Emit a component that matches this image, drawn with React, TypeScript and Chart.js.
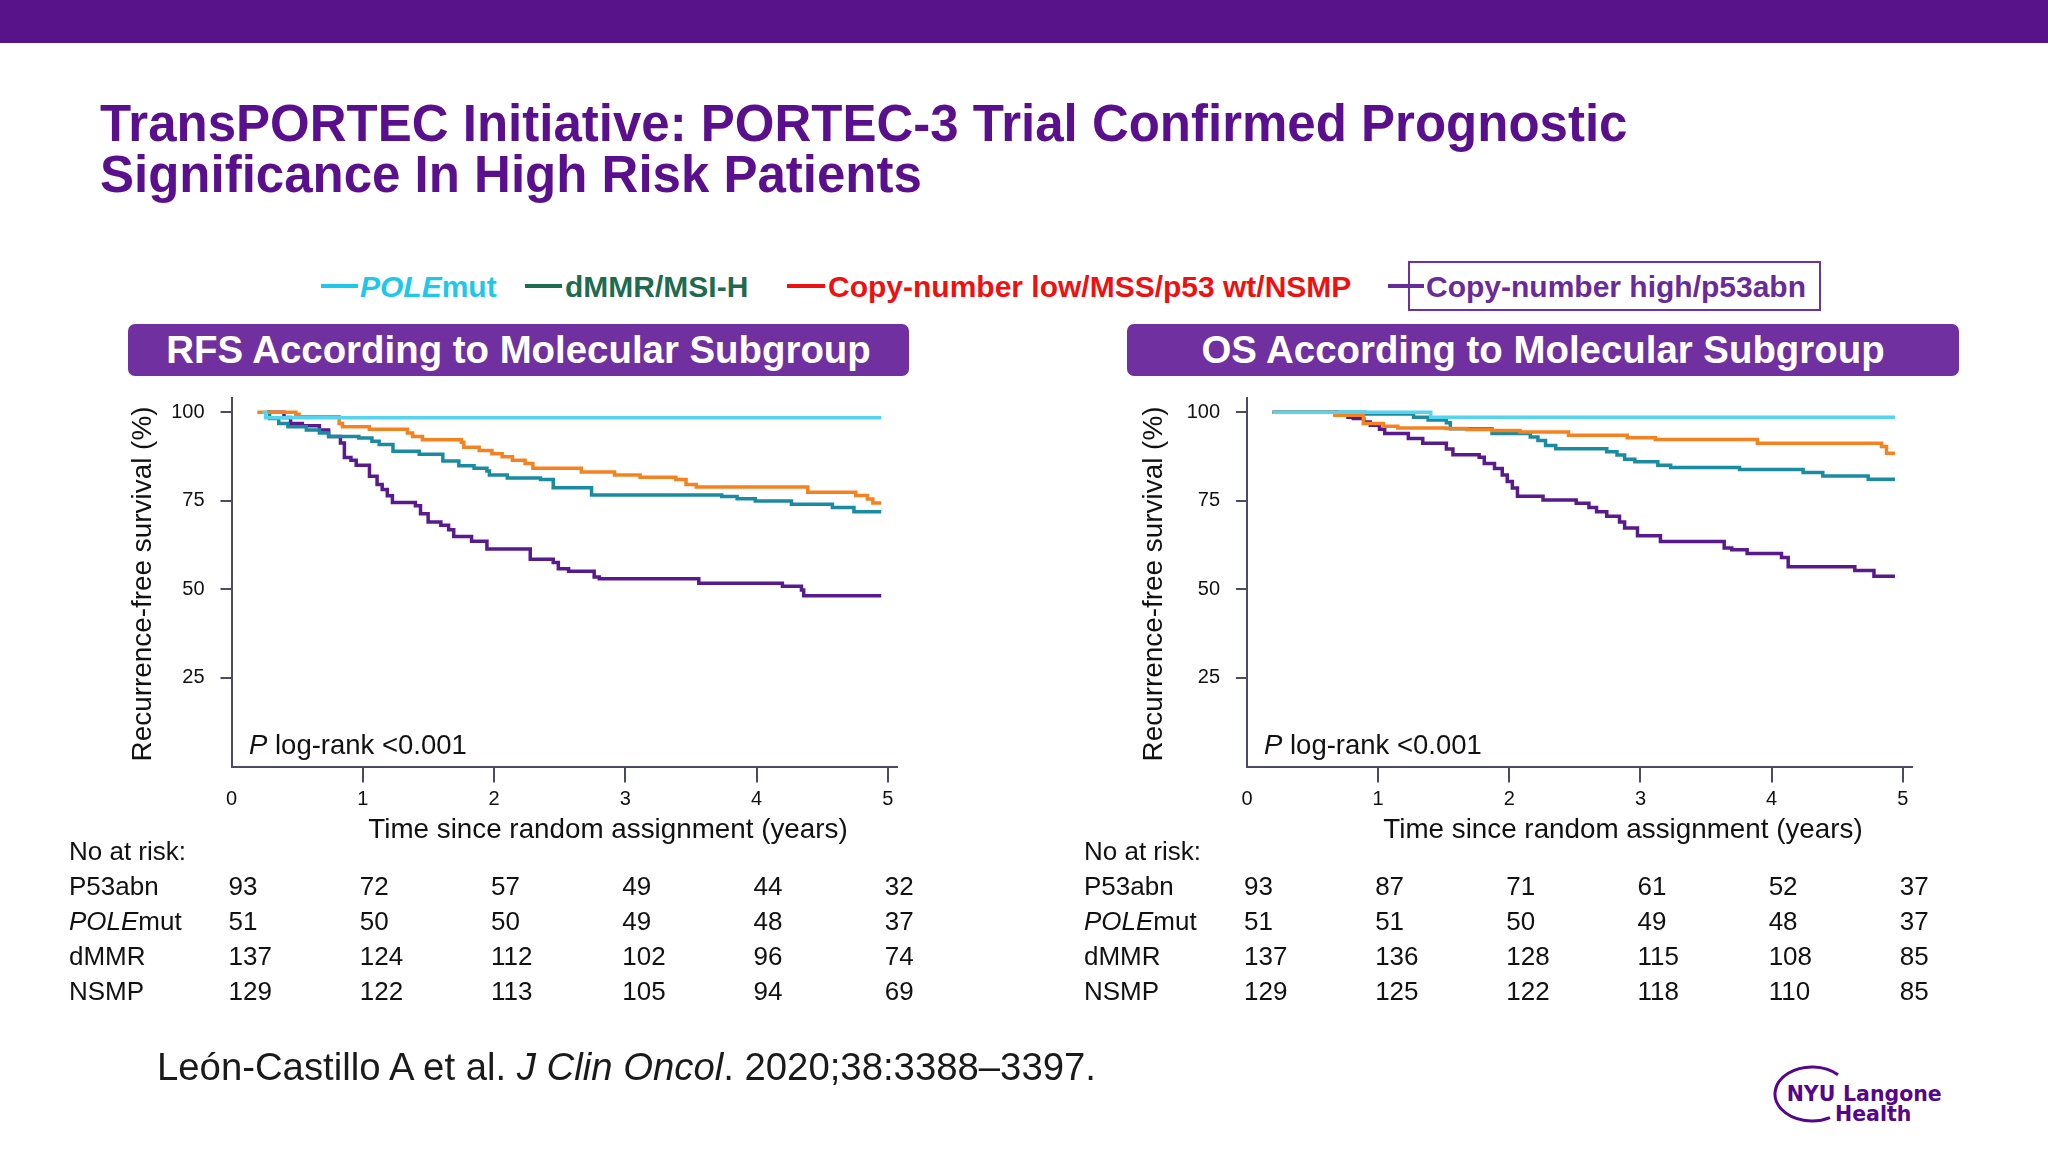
import React, { useEffect, useRef } from 'react';
import { Chart, registerables } from 'chart.js';

Chart.register(...registerables);

const FONT = '"Liberation Sans", Arial, Helvetica, sans-serif';

// ---------- data ----------
const yearTicks = [0, 1, 2, 3, 4, 5];
const survivalTicks = [25, 50, 75, 100];

// RFS (time in years, survival %)
const rfsPOLEmut: [number, number][] = [[0.235, 100], [0.26, 98.4], [4.95, 98.4]];
const rfsNSMP: [number, number][] = [
  [0.197, 100], [0.49, 99.4], [0.515, 98.7], [0.82, 96.8], [0.845, 95.9], [1.05, 95.2], [1.34, 94.1],
  [1.38, 93.1], [1.455, 92.2], [1.751, 91.5], [1.77, 90.1], [1.887, 89.2], [1.984, 88.3], [2.062, 87.4],
  [2.14, 86.4], [2.237, 85.5], [2.296, 84.2], [2.665, 83.1], [2.918, 82.3], [3.113, 81.6], [3.385, 81.0],
  [3.463, 79.6], [3.541, 78.9], [4.39, 77.4], [4.756, 76.5], [4.845, 75.5], [4.886, 74.4], [4.95, 74.4],
];
const rfsDMMR: [number, number][] = [
  [0.27, 100], [0.29, 98.2], [0.36, 96.8], [0.43, 95.9], [0.57, 95.0], [0.67, 94.1], [0.74, 93.1],
  [0.97, 92.7], [1.07, 91.8], [1.125, 90.9], [1.23, 89.0], [1.43, 88.1], [1.61, 86.2], [1.732, 84.9],
  [1.848, 84.2], [1.946, 83.4], [1.965, 82.3], [2.101, 81.4], [2.354, 81.0], [2.451, 78.7], [2.743, 76.6],
  [3.735, 76.2], [3.852, 75.6], [3.99, 74.9], [4.266, 74.0], [4.578, 73.1], [4.742, 71.9], [4.95, 71.9],
];
const rfsP53abn: [number, number][] = [
  [0.27, 100], [0.4, 98.5], [0.45, 96.8], [0.54, 96.2], [0.67, 95.0], [0.74, 93.1], [0.83, 91.3],
  [0.86, 87.2], [0.91, 86.4], [0.95, 85.0], [1.051, 81.9], [1.109, 79.6], [1.148, 78.2], [1.187, 76.4],
  [1.226, 74.5], [1.401, 73.6], [1.44, 71.3], [1.498, 69.0], [1.595, 68.1], [1.654, 66.8], [1.693, 64.9],
  [1.829, 63.6], [1.946, 61.4], [2.276, 58.5], [2.451, 57.6], [2.49, 55.8], [2.568, 55.1], [2.763, 53.5],
  [2.802, 53.0], [3.56, 51.7], [4.197, 50.9], [4.342, 49.8], [4.359, 48.2], [4.95, 48.2],
];

// OS
const osPOLEmut: [number, number][] = [[0.195, 100], [1.401, 98.6], [4.94, 98.6]];
const osNSMP: [number, number][] = [
  [0.195, 100], [0.67, 99.1], [0.887, 96.8], [1.04, 96.0], [1.15, 95.5], [1.518, 95.4], [1.673, 95.1],
  [1.868, 94.8], [2.082, 94.4], [2.451, 93.5], [2.899, 92.8], [3.113, 92.3], [3.891, 91.2], [4.838, 90.3],
  [4.876, 88.4], [4.94, 88.4],
];
const osDMMR: [number, number][] = [
  [0.195, 100], [0.9, 99.5], [1.27, 98.6], [1.381, 97.8], [1.52, 97.0], [1.55, 95.3], [1.868, 94.0],
  [2.16, 93.0], [2.218, 92.0], [2.276, 90.6], [2.354, 89.7], [2.743, 88.8], [2.821, 87.9], [2.879, 86.7],
  [2.957, 86.0], [3.132, 85.0], [3.23, 84.4], [3.755, 83.8], [4.24, 83.0], [4.39, 82.0], [4.736, 81.1],
  [4.94, 81.1],
];
const osP53abn: [number, number][] = [
  [0.195, 100], [0.68, 99.5], [0.77, 98.6], [0.81, 98.2], [0.89, 97.2], [0.94, 96.3], [1.01, 95.2],
  [1.05, 94.0], [1.23, 92.6], [1.34, 91.2], [1.52, 89.6], [1.57, 88.0], [1.77, 87.3], [1.809, 85.5],
  [1.887, 84.1], [1.946, 82.3], [1.984, 80.4], [2.023, 78.6], [2.062, 76.3], [2.257, 75.2], [2.51, 74.3],
  [2.607, 73.1], [2.665, 71.9], [2.743, 70.6], [2.84, 69.0], [2.879, 67.3], [2.977, 65.1], [3.152, 63.5],
  [3.638, 61.7], [3.696, 61.2], [3.813, 60.1], [4.075, 59.0], [4.126, 56.4], [4.634, 55.3], [4.78, 53.7],
  [4.94, 53.7],
];

// Numbers at risk
const riskGroups = ['P53abn', 'POLEmut', 'dMMR', 'NSMP'];
const rfsRiskP53abn = [93, 72, 57, 49, 44, 32];
const rfsRiskPOLEmut = [51, 50, 50, 49, 48, 37];
const rfsRiskDMMR = [137, 124, 112, 102, 96, 74];
const rfsRiskNSMP = [129, 122, 113, 105, 94, 69];
const osRiskP53abn = [93, 87, 71, 61, 52, 37];
const osRiskPOLEmut = [51, 51, 50, 49, 48, 37];
const osRiskDMMR = [137, 136, 128, 115, 108, 85];
const osRiskNSMP = [129, 125, 122, 118, 110, 85];

const legendLabels = ['POLEmut', 'dMMR/MSI-H', 'Copy-number low/MSS/p53 wt/NSMP', 'Copy-number high/p53abn'];

// ---------- styles ----------
const colPOLE = '#55D4EF';
const colDMMR = '#1A8CA2';
const colNSMP = '#F5821F';
const colP53 = '#581A8C';
const axisColor = '#4B4B68';
const textColor = '#111111';

type Layout = {
  chartLeft: number;
  chartTop: number;
  rightPad: number;
  chartBottom: number;
  yTitleX: number;
  yTitleY: number;
  xTitleX: number;
  xTitleY: number;
  pX: number;
  pY: number;
  riskLabelX: number;
  riskHeaderY: number;
  riskRowsY: number[];
};

const W = 900;
const H = 680;

function makeTextPlugin(layout: Layout, risk: number[][]) {
  return {
    id: 'kmText',
    afterDraw(chart: any) {
      const ctx = chart.ctx;
      ctx.save();
      ctx.fillStyle = textColor;
      ctx.textBaseline = 'middle';
      // y title
      ctx.save();
      ctx.translate(layout.yTitleX, layout.yTitleY);
      ctx.rotate(-Math.PI / 2);
      ctx.textAlign = 'center';
      ctx.font = `27.9px ${FONT}`;
      ctx.fillText('Recurrence-free survival (%)', 0, 0);
      ctx.restore();
      // x title
      ctx.textAlign = 'center';
      ctx.font = `27.8px ${FONT}`;
      ctx.fillText('Time since random assignment (years)', layout.xTitleX, layout.xTitleY);
      // p value
      ctx.textAlign = 'left';
      ctx.font = `italic 27.5px ${FONT}`;
      ctx.fillText('P', layout.pX, layout.pY);
      const pw = ctx.measureText('P').width;
      ctx.font = `27.5px ${FONT}`;
      ctx.fillText(' log-rank <0.001', layout.pX + pw, layout.pY);
      // risk table
      ctx.font = `26px ${FONT}`;
      ctx.fillText('No at risk:', layout.riskLabelX, layout.riskHeaderY);
      const xs = chart.scales.x;
      riskGroups.forEach((g, r) => {
        const y = layout.riskRowsY[r];
        if (g === 'POLEmut') {
          ctx.font = `italic 26px ${FONT}`;
          ctx.fillText('POLE', layout.riskLabelX, y);
          const w = ctx.measureText('POLE').width;
          ctx.font = `26px ${FONT}`;
          ctx.fillText('mut', layout.riskLabelX + w, y);
        } else {
          ctx.font = `26px ${FONT}`;
          ctx.fillText(g, layout.riskLabelX, y);
        }
        ctx.font = `26px ${FONT}`;
        risk[r].forEach((v, i) => {
          ctx.fillText(String(v), xs.getPixelForValue(yearTicks[i]) - 3, y);
        });
      });
      ctx.restore();
    },
  };
}

function makeConfig(series: [number, number][][], risk: number[][], layout: Layout): any {
  const colors = [colPOLE, colNSMP, colDMMR, colP53];
  return {
    type: 'line',
    data: {
      datasets: series.map((s, i) => ({
        data: s.map(([x, y]) => ({ x, y })),
        borderColor: colors[i],
        borderWidth: 3.5,
        pointRadius: 0,
        stepped: 'before',
        fill: false,
        tension: 0,
      })),
    },
    options: {
      animation: false,
      responsive: false,
      events: [],
      layout: { padding: { left: 0, top: layout.chartTop, right: layout.rightPad, bottom: 0 } },
      plugins: { legend: { display: false }, tooltip: { enabled: false }, title: { display: false } },
      scales: {
        x: {
          type: 'linear',
          min: 0,
          max: 5.07,
          afterBuildTicks: (s: any) => {
            s.ticks = yearTicks.map((v) => ({ value: v }));
          },
          afterFit: (s: any) => {
            s.height = H - layout.chartBottom;
          },
          ticks: { color: textColor, font: { family: FONT, size: 20 }, padding: 5, maxRotation: 0, autoSkip: false },
          grid: {
            drawOnChartArea: false,
            drawTicks: true,
            tickLength: 16,
            lineWidth: 2,
            color: (c: any) => (c.tick && c.tick.value === 0 ? 'rgba(0,0,0,0)' : axisColor),
          },
          border: { display: true, color: axisColor, width: 2 },
        },
        y: {
          type: 'linear',
          min: 0,
          max: 104,
          afterBuildTicks: (s: any) => {
            s.ticks = survivalTicks.map((v) => ({ value: v }));
          },
          afterFit: (s: any) => {
            s.width = layout.chartLeft;
          },
          ticks: { color: textColor, font: { family: FONT, size: 20 }, padding: 16 },
          grid: { drawOnChartArea: false, drawTicks: true, tickLength: 11, lineWidth: 2, color: axisColor },
          border: { display: true, color: axisColor, width: 2 },
        },
      },
    },
    plugins: [makeTextPlugin(layout, risk)],
  };
}

function KMChart(props: { left: number; top: number; series: [number, number][][]; risk: number[][]; layout: Layout }) {
  const ref = useRef<HTMLCanvasElement | null>(null);
  useEffect(() => {
    if (!ref.current) return;
    const chart = new Chart(ref.current, makeConfig(props.series, props.risk, props.layout));
    return () => chart.destroy();
  }, []);
  return (
    <canvas
      ref={ref}
      width={W}
      height={H}
      style={{ position: 'absolute', left: props.left, top: props.top, width: W, height: H }}
    />
  );
}

const riskRowsY = [517.5, 552.8, 588, 623.3];

const leftLayout: Layout = {
  chartLeft: 181.5,
  chartTop: 19,
  rightPad: 53,
  chartBottom: 396.5,
  yTitleX: 93,
  yTitleY: 214,
  xTitleX: 558,
  xTitleY: 460,
  pX: 199,
  pY: 376.5,
  riskLabelX: 19,
  riskHeaderY: 483,
  riskRowsY,
};

const rightLayout: Layout = {
  chartLeft: 217,
  chartTop: 19,
  rightPad: 18,
  chartBottom: 396.5,
  yTitleX: 124,
  yTitleY: 214,
  xTitleX: 593,
  xTitleY: 460,
  pX: 234,
  pY: 376.5,
  riskLabelX: 54,
  riskHeaderY: 483,
  riskRowsY,
};

const abs = (s: React.CSSProperties): React.CSSProperties => ({ position: 'absolute', ...s });

export default function App() {
  const headerStyle = (left: number, width: number): React.CSSProperties =>
    abs({
      left,
      top: 324,
      width,
      height: 52,
      background: '#7030A0',
      borderRadius: 7,
      color: '#fff',
      font: `bold 38.4px ${FONT}`,
      lineHeight: '52px',
      textAlign: 'center',
      whiteSpace: 'nowrap',
    });
  const legendText = (left: number, color: string): React.CSSProperties =>
    abs({ left, top: 270, font: `bold 30px ${FONT}`, lineHeight: '34px', color, whiteSpace: 'nowrap' });
  const legendLine = (left: number, width: number, color: string): React.CSSProperties =>
    abs({ left, top: 284, width, height: 4, background: color });
  const logoFont = 'bold 20.5px "DejaVu Sans", Verdana, sans-serif';

  return (
    <div style={abs({ left: 0, top: 0, width: 2048, height: 1152, background: '#fff', overflow: 'hidden', fontFamily: FONT })}>
      <div style={abs({ left: 0, top: 0, width: 2048, height: 43, background: '#58138A' })} />
      <div style={abs({ left: 100, top: 98, font: `bold 51px ${FONT}`, lineHeight: '51px', color: '#5A0F8C', whiteSpace: 'nowrap' })}>
        TransPORTEC Initiative: PORTEC-3 Trial Confirmed Prognostic
        <br />
        Significance In High Risk Patients
      </div>

      {/* legend */}
      <div style={abs({ left: 1408, top: 261, width: 409, height: 46, border: '2px solid #7030A0' })} />
      <div style={legendLine(321, 37, '#1EC8EA')} />
      <div style={legendText(360, '#1EC8EA')}>
        <i>POLE</i>mut
      </div>
      <div style={legendLine(525, 37, '#1F6B52')} />
      <div style={legendText(565, '#1F6B52')}>{legendLabels[1]}</div>
      <div style={legendLine(787, 38, '#EE1111')} />
      <div style={legendText(828, '#EE1111')}>{legendLabels[2]}</div>
      <div style={legendLine(1388, 36, '#6A2B9A')} />
      <div style={legendText(1426, '#6A2B9A')}>{legendLabels[3]}</div>

      {/* panel headers */}
      <div style={headerStyle(128, 781)}>RFS According to Molecular Subgroup</div>
      <div style={headerStyle(1127, 832)}>OS According to Molecular Subgroup</div>

      <KMChart
        left={50}
        top={370}
        series={[rfsPOLEmut, rfsNSMP, rfsDMMR, rfsP53abn]}
        risk={[rfsRiskP53abn, rfsRiskPOLEmut, rfsRiskDMMR, rfsRiskNSMP]}
        layout={leftLayout}
      />
      <KMChart
        left={1030}
        top={370}
        series={[osPOLEmut, osNSMP, osDMMR, osP53abn]}
        risk={[osRiskP53abn, osRiskPOLEmut, osRiskDMMR, osRiskNSMP]}
        layout={rightLayout}
      />

      {/* citation */}
      <div style={abs({ left: 157, top: 1047, font: `38.3px ${FONT}`, lineHeight: '40px', color: '#1a1a1a', whiteSpace: 'nowrap' })}>
        León-Castillo A et al. <i>J Clin Oncol</i>. 2020;38:3388–3397.
      </div>

      {/* logo */}
      <svg style={abs({ left: 1760, top: 1055, width: 200, height: 80 })} width={200} height={80} viewBox="0 0 200 80">
        <path d="M 78 19.8 A 37 27 0 1 0 70 62.6" fill="none" stroke="#57068C" strokeWidth={3} />
        <text x={26.7} y={45.7} fill="#57068C" style={{ font: logoFont }}>NYU</text>
        <text x={83} y={45.7} fill="#57068C" style={{ font: logoFont }}>Langone</text>
        <text x={75} y={66} fill="#57068C" style={{ font: logoFont }}>Health</text>
      </svg>
    </div>
  );
}
